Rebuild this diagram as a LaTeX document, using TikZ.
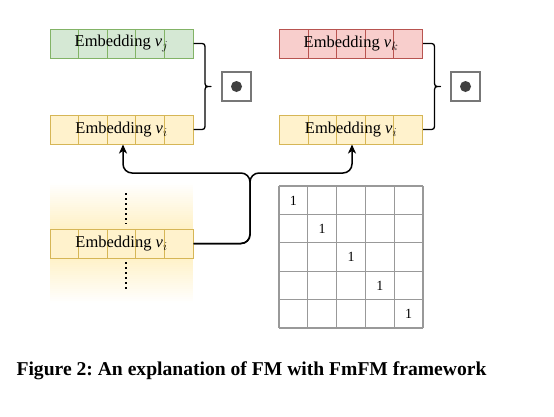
\documentclass[tikz,border=0pt]{standalone}
\usepackage{fontspec}
\setmainfont{Liberation Serif}
\usetikzlibrary{arrows.meta}

\definecolor{greenF}{HTML}{D5E8D4}
\definecolor{greenD}{HTML}{82B366}
\definecolor{yellowF}{HTML}{FFF2CC}
\definecolor{yellowD}{HTML}{D6B656}
\definecolor{redF}{HTML}{F8CECC}
\definecolor{redD}{HTML}{B85450}
\definecolor{glowC}{HTML}{FFF1C6}
\definecolor{boxC}{HTML}{777777}
\definecolor{gridC}{HTML}{999999}

\begin{document}
\begin{tikzpicture}[x=1pt,y=-1pt,
    emb/.style={draw=#1D, fill=#1F, line width=1pt, minimum width=143pt,
      minimum height=29pt, inner sep=0pt, font=\fontsize{16.5}{16.5}\selectfont,
      path picture={\foreach \k in {1,...,4}
        \draw[#1D, line width=1pt] ([xshift=\k*28.6pt]path picture bounding box.north west)
          -- ([xshift=\k*28.6pt]path picture bounding box.south west);}},
    dotbox/.style={draw=boxC, fill=white, line width=1.3pt, minimum size=29pt, inner sep=0pt},
    brk/.style={line width=1.3pt, line join=round},
    flow/.style={line width=1.5pt, rounded corners=9pt, -{Stealth[length=9pt,width=8pt,inset=2.5pt]}},
    gridline/.style={gridC, line width=1.2pt}]
  \useasboundingbox (0,0) rectangle (554,416);

  % glow behind the lower embedding, in thin strips
  \foreach \k in {0,...,59} {
    \pgfmathsetmacro\p{min(100,130*(1-abs(\k-29.5)/30))}
    \fill[glowC!\p!white] (50,183+\k*2) rectangle (193,185.2+\k*2);
  }

  \node(ej)[emb=green] at (121.5,43.5) {Embedding \textit{v}$_j$};
  \node(eiL)[emb=yellow] at (121.5,129.5) {Embedding \textit{v}$_i$};
  \node(ek)[emb=red] at (351,43.5) {Embedding \textit{v}$_k$};
  \node(eiR)[emb=yellow] at (351,129.5) {Embedding \textit{v}$_i$};
  \node(ei)[emb=yellow] at (121.5,243.5) {Embedding \textit{v}$_i$};

  \node(dotL)[dotbox] at (236.5,86.5) {};
  \fill[black!75] (dotL.center) circle [radius=5.5pt];
  \node(dotR)[dotbox] at (465.5,86.5) {};
  \fill[black!75] (dotR.center) circle [radius=5.5pt];

  % brackets
  \draw[brk] (ej.east) -- (199,43.5) .. controls (205,43.5) .. (205,50) -- (205,80)
    .. controls (205,86.5) .. (211,86.5) .. controls (205,86.5) .. (205,93) -- (205,123)
    .. controls (205,129.5) .. (199,129.5) -- (eiL.east);
  \draw[brk] (ek.east) -- (428.5,43.5) .. controls (434.5,43.5) .. (434.5,50) -- (434.5,80)
    .. controls (434.5,86.5) .. (440.5,86.5) .. controls (434.5,86.5) .. (434.5,93) -- (434.5,123)
    .. controls (434.5,129.5) .. (428.5,129.5) -- (eiR.east);

  % shared embedding goes to both pairs
  \coordinate(split) at (250,173);
  \draw[flow] (ei.east) -| (split) -| ([xshift=1.5pt]eiL.south);
  \draw[flow] (ei.east) -| (split) -| ([xshift=1pt]eiR.south);

  \draw[line width=1.5pt, dash pattern=on 1.5pt off 3.5pt] (126,193) -- (126,224);
  \draw[line width=1.5pt, dash pattern=on 1.5pt off 3.5pt] (126,262) -- (126,292);

  % identity matrix
  \foreach \k in {0,...,5} {
    \draw[gridline] (279+\k*28.8,186) -- (279+\k*28.8,328);
    \draw[gridline] (279,186+\k*28.4) -- (423,186+\k*28.4);
  }
  \foreach \k in {0,...,4}
    \node(one\k)[font=\fontsize{14}{14}\selectfont] at (293.4+\k*28.8,200.5+\k*28.4) {1};

  \node(cap)[anchor=base west, font=\fontsize{19.6}{19.6}\selectfont\bfseries] at (13,375)
    {\frenchspacing Figure 2: An explanation of FM with FmFM framework};
\end{tikzpicture}
\end{document}
